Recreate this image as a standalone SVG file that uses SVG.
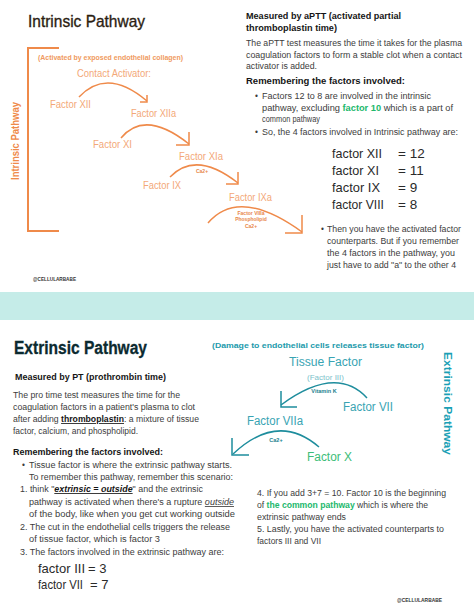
<svg xmlns="http://www.w3.org/2000/svg" width="474" height="613" viewBox="0 0 474 613">
<defs>
<style>
text{font-family:"Liberation Sans",Arial,sans-serif;}
.title{font-size:17px;fill:#2b1d12;stroke:#2b1d12;stroke-width:0.35;}
.xtitle{font-size:17.5px;font-weight:bold;fill:#0b2a30;stroke:#0b2a30;stroke-width:0.3;}
.head{font-size:9px;font-weight:bold;fill:#151515;}
.body{font-size:8.3px;fill:#3c3c3c;}
.grn{fill:#22b86c;font-weight:bold;}
.b{font-weight:bold;fill:#151515;}
.u{text-decoration:underline;}
.fl{font-size:13.5px;fill:#2a2a2a;}
.fl2{font-size:13px;fill:#2a2a2a;}
.of{font-size:10.5px;fill:#f3a878;}
.osm{font-size:5px;font-weight:bold;fill:#e8864a;text-anchor:middle;}
.tf{font-size:12px;fill:#39a4b3;}
.tsm{font-size:5.5px;font-weight:bold;fill:#1b7f8f;text-anchor:middle;}
.sig{font-size:6px;font-weight:bold;fill:#333;}
.oarc{fill:none;stroke:#ef8a4a;stroke-width:1.5;}
.tarc{fill:none;stroke:#1e8d9d;stroke-width:1.5;}
</style>
</defs>
<rect x="0" y="0" width="474" height="613" fill="#ffffff"/>
<rect x="0" y="292" width="474" height="28" fill="#c5ece8"/>

<!-- Intrinsic section -->
<g id="intrinsic-title"><text class="title" x="28" y="27" textLength="117" lengthAdjust="spacingAndGlyphs">Intrinsic Pathway</text></g>
<g id="intrinsic-bracket">
<polyline points="59,48 28,48 28,231 59,231" fill="none" stroke="#ef8a4a" stroke-width="2"/>
<text x="18.5" y="141" transform="rotate(-90 18.5 141)" text-anchor="middle" font-size="10" font-weight="bold" fill="#ef8a4a" textLength="78" lengthAdjust="spacingAndGlyphs">Intrinsic Pathway</text>
</g>
<g id="intrinsic-note"><text x="38" y="60" font-size="7" font-weight="bold" fill="#f09a60" textLength="145" lengthAdjust="spacingAndGlyphs">(Activated by exposed endothelial collagen)</text></g>
<g id="contact-activator"><text class="of" x="77" y="77" textLength="74" lengthAdjust="spacingAndGlyphs">Contact Activator:</text></g>
<g id="factor-xii"><text class="of" x="50" y="108" textLength="41" lengthAdjust="spacingAndGlyphs">Factor XII</text></g>
<g id="factor-xiia"><text class="of" x="131" y="117" textLength="45" lengthAdjust="spacingAndGlyphs">Factor XIIa</text></g>
<g id="factor-xi"><text class="of" x="93" y="148" textLength="39" lengthAdjust="spacingAndGlyphs">Factor XI</text></g>
<g id="factor-xia"><text class="of" x="179" y="160" textLength="44" lengthAdjust="spacingAndGlyphs">Factor XIa</text></g>
<g id="factor-ix"><text class="of" x="143" y="189" textLength="38" lengthAdjust="spacingAndGlyphs">Factor IX</text></g>
<g id="factor-ixa"><text class="of" x="229" y="201" textLength="43" lengthAdjust="spacingAndGlyphs">Factor IXa</text></g>

<g id="connectors">
<path class="oarc" d="M79,97 Q107,67 147,101"/>
<polyline class="oarc" points="147,95 147,102 140,102"/>
<path class="oarc" d="M121,138 Q145,109 189,144"/>
<polyline class="oarc" points="189,132 189,145 176,145"/>
<path class="oarc" d="M170,177 Q196,150 238,183"/>
<polyline class="oarc" points="238,172 238,184 226,184"/>
<path class="oarc" d="M208,223 Q239,186.5 302,232"/>
<polyline class="oarc" points="302,215 302,233 285,233"/>
<path class="tarc" d="M367,398 Q336,364.5 281,405"/>
<polyline class="tarc" points="281,391 281,407 297,407"/>
<path class="tarc" d="M319,447 Q278,411.5 233,454"/>
<polyline class="tarc" points="232,438 232,455 249,455"/>
</g>
<g id="cofactor-ca-1"><text class="osm" x="202" y="173">Ca2+</text></g>
<g id="cofactor-viiia">
<text class="osm" x="251" y="215">Factor VIIIa</text>
<text class="osm" x="251" y="221">Phospholipid</text>
<text class="osm" x="251" y="228">Ca2+</text>
</g>
<g id="sig-top"><text class="sig" x="33" y="281" textLength="43" lengthAdjust="spacingAndGlyphs">@CELLULARBABE</text></g>

<g id="aptt-text">
<text class="head" x="246" y="19" textLength="155" lengthAdjust="spacingAndGlyphs">Measured by aPTT (activated partial</text>
<text class="head" x="246" y="31" textLength="91" lengthAdjust="spacingAndGlyphs">thromboplastin time)</text>
<text class="body" x="246" y="46" textLength="216" lengthAdjust="spacingAndGlyphs">The aPTT test measures the time it takes for the plasma</text>
<text class="body" x="246" y="58" textLength="216" lengthAdjust="spacingAndGlyphs">coagulation factors to form a stable clot when a contact</text>
<text class="body" x="246" y="69" textLength="71" lengthAdjust="spacingAndGlyphs">activator is added.</text>
<text class="head" x="246" y="84" textLength="159" lengthAdjust="spacingAndGlyphs">Remembering  the factors involved:</text>
<text class="body" x="255" y="99">•</text>
<text class="body" x="262" y="99" textLength="169" lengthAdjust="spacingAndGlyphs">Factors 12 to 8 are involved in the intrinsic</text>
<text class="body" x="262" y="111" textLength="191" lengthAdjust="spacingAndGlyphs">pathway, excluding <tspan class="grn">factor 10</tspan> which is a part of</text>
<text class="body" x="262" y="122" textLength="58" lengthAdjust="spacingAndGlyphs">common pathway</text>
<text class="body" x="255" y="135">•</text>
<text class="body" x="262" y="135" textLength="196" lengthAdjust="spacingAndGlyphs">So, the 4 factors involved in Intrinsic pathway are:</text>
</g>
<g id="intrinsic-factor-list">
<text class="fl" x="332" y="158" textLength="50" lengthAdjust="spacingAndGlyphs">factor XII</text>
<text class="fl" x="398" y="158">= 12</text>
<text class="fl" x="332" y="175" textLength="47" lengthAdjust="spacingAndGlyphs">factor XI</text>
<text class="fl" x="398" y="175">= 11</text>
<text class="fl" x="332" y="192" textLength="48" lengthAdjust="spacingAndGlyphs">factor IX</text>
<text class="fl" x="398" y="192">= 9</text>
<text class="fl" x="332" y="209" textLength="52" lengthAdjust="spacingAndGlyphs">factor VIII</text>
<text class="fl" x="398" y="209">= 8</text>
</g>
<g id="intrinsic-note-2">
<text class="body" x="321" y="232">•</text>
<text class="body" x="327" y="232" textLength="134" lengthAdjust="spacingAndGlyphs">Then you have the activated factor</text>
<text class="body" x="327" y="244" textLength="132" lengthAdjust="spacingAndGlyphs">counterparts. But if you remember</text>
<text class="body" x="327" y="256" textLength="128" lengthAdjust="spacingAndGlyphs">the  4 factors in the pathway, you</text>
<text class="body" x="327" y="268" textLength="129" lengthAdjust="spacingAndGlyphs">just have to add "a" to the other 4</text>
</g>

<!-- Extrinsic section -->
<g id="extrinsic-title"><text class="xtitle" x="14" y="354" textLength="133" lengthAdjust="spacingAndGlyphs">Extrinsic Pathway</text></g>
<g id="pt-text">
<text class="head" x="15" y="380" textLength="151" lengthAdjust="spacingAndGlyphs">Measured by PT (prothrombin time)</text>
<text class="body" x="13" y="398" textLength="167" lengthAdjust="spacingAndGlyphs">The pro time test measures the time for the</text>
<text class="body" x="13" y="410" textLength="182" lengthAdjust="spacingAndGlyphs">coagulation factors in a patient's plasma to clot</text>
<text class="body" x="13" y="422" textLength="186" lengthAdjust="spacingAndGlyphs">after adding <tspan class="b u">thromboplastin</tspan>: a mixture of tissue</text>
<text class="body" x="13" y="434" textLength="125" lengthAdjust="spacingAndGlyphs">factor, calcium, and phospholipid.</text>
<text class="head" x="13" y="455" textLength="150" lengthAdjust="spacingAndGlyphs">Remembering  the factors involved:</text>
<text class="body" x="22" y="468">•</text>
<text class="body" x="29" y="468" textLength="203" lengthAdjust="spacingAndGlyphs">Tissue factor is where the extrinsic pathway starts.</text>
<text class="body" x="29" y="480" textLength="204" lengthAdjust="spacingAndGlyphs">To remember this pathway, remember this scenario:</text>
<text class="body" x="20" y="492" textLength="183" lengthAdjust="spacingAndGlyphs">1. think "<tspan class="b u" font-style="italic">extrinsic = outside</tspan>" and the extrinsic</text>
<text class="body" x="29" y="505" textLength="205" lengthAdjust="spacingAndGlyphs">pathway is activated when there's a rupture <tspan class="u" font-style="italic">outside</tspan></text>
<text class="body" x="29" y="517" textLength="206" lengthAdjust="spacingAndGlyphs">of the body, like when you get cut working outside</text>
<text class="body" x="20" y="530" textLength="210" lengthAdjust="spacingAndGlyphs">2. The cut in the endothelial cells triggers the release</text>
<text class="body" x="29" y="542" textLength="131" lengthAdjust="spacingAndGlyphs">of tissue factor, which is factor 3</text>
<text class="body" x="20" y="555" textLength="204" lengthAdjust="spacingAndGlyphs">3. The factors involved in the extrinsic pathway are:</text>
</g>
<g id="extrinsic-factor-list">
<text class="fl2" x="38" y="573" textLength="47" lengthAdjust="spacingAndGlyphs">factor III</text>
<text class="fl2" x="88" y="573">= 3</text>
<text class="fl2" x="38" y="589" textLength="45" lengthAdjust="spacingAndGlyphs">factor VII</text>
<text class="fl2" x="90" y="589">= 7</text>
</g>

<g id="extrinsic-note"><text x="212" y="348" font-size="7.5" font-weight="bold" fill="#1b9aab" textLength="212" lengthAdjust="spacingAndGlyphs">(Damage to endothelial cells releases tissue factor)</text></g>
<g id="tissue-factor">
<text class="tf" x="289" y="366" textLength="73" lengthAdjust="spacingAndGlyphs">Tissue Factor</text>
<text x="307" y="380" font-size="6.5" fill="#7cc2cb" textLength="37" lengthAdjust="spacingAndGlyphs">(Factor III)</text>
</g>
<g id="cofactor-vitk"><text class="tsm" x="324" y="393">Vitamin K</text></g>
<g id="factor-vii"><text class="tf" x="343" y="411" textLength="50" lengthAdjust="spacingAndGlyphs">Factor VII</text></g>
<g id="factor-viia"><text class="tf" x="247" y="425" textLength="56" lengthAdjust="spacingAndGlyphs">Factor VIIa</text></g>
<g id="cofactor-ca-2"><text class="tsm" x="276" y="442">Ca2+</text></g>
<g id="factor-x"><text x="307" y="461" font-size="12" fill="#3dbd78" textLength="45" lengthAdjust="spacingAndGlyphs">Factor X</text></g>
<g id="extrinsic-side-label"><text x="444" y="403.5" transform="rotate(90 444 403.5)" text-anchor="middle" font-size="11.5" font-weight="bold" fill="#1a9fb5" textLength="103" lengthAdjust="spacingAndGlyphs">Extrinsic Pathway</text></g>

<g id="common-text">
<text class="body" x="257" y="496" textLength="189" lengthAdjust="spacingAndGlyphs">4. If you add 3+7 = 10. Factor 10 is the  beginning</text>
<text class="body" x="257" y="508" textLength="171" lengthAdjust="spacingAndGlyphs">of <tspan class="grn">the common pathway</tspan> which is where the</text>
<text class="body" x="257" y="520" textLength="89" lengthAdjust="spacingAndGlyphs">extrinsic pathway ends</text>
<text class="body" x="257" y="532" textLength="187" lengthAdjust="spacingAndGlyphs">5. Lastly, you have the activated counterparts to</text>
<text class="body" x="257" y="544" textLength="64" lengthAdjust="spacingAndGlyphs">factors III and VII</text>
</g>
<g id="sig-bottom"><text class="sig" x="397" y="602" textLength="45" lengthAdjust="spacingAndGlyphs">@CELLULARBABE</text></g>
</svg>
